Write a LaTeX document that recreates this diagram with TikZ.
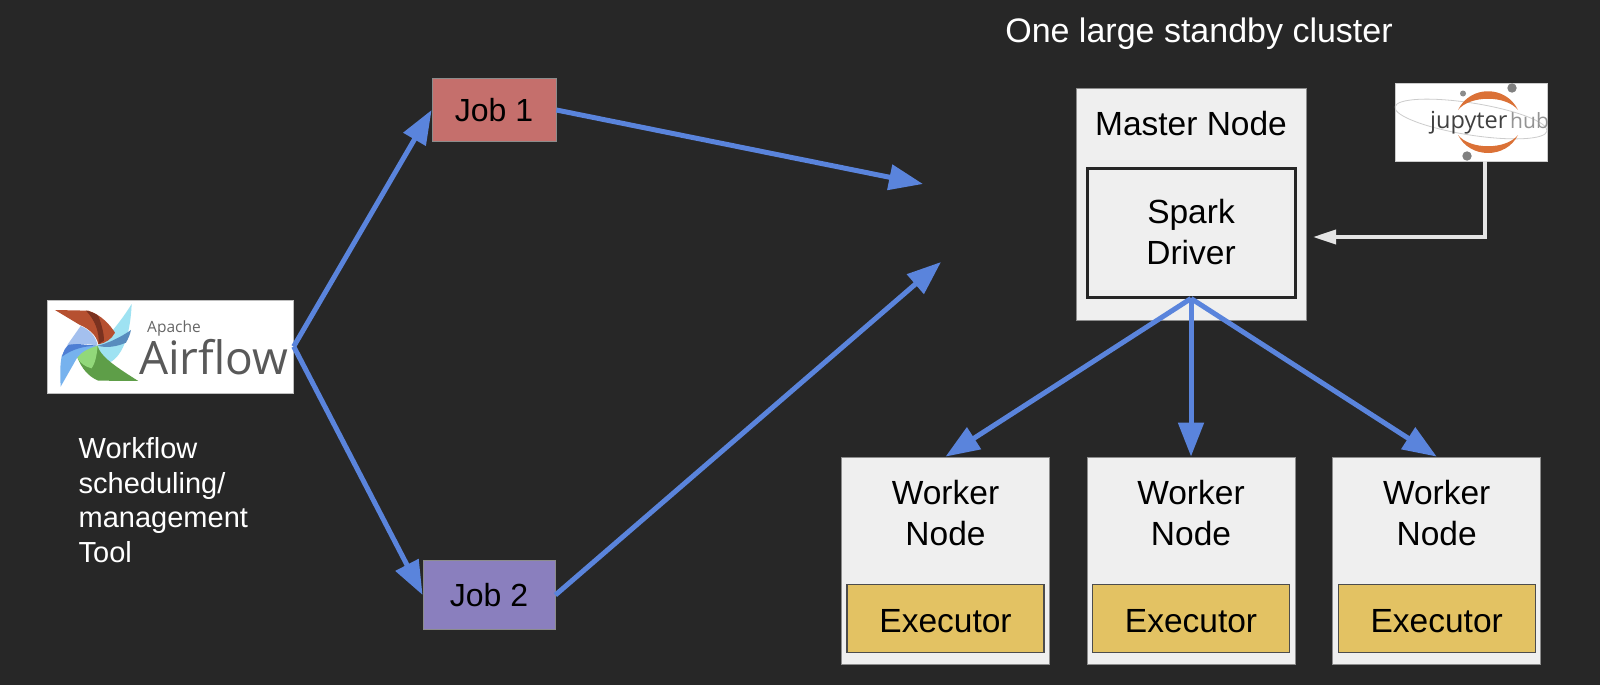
\documentclass[tikz,border=0pt]{standalone}
\usepackage{xcolor}
\usepackage{fontspec}
\setmainfont{Liberation Sans}
\newfontfamily\logofont{Open Sans}
\usetikzlibrary{arrows.meta}
\definecolor{bgdark}{HTML}{272727}
\definecolor{flowblue}{HTML}{5A84DC}
\definecolor{boxgray}{HTML}{EFEFEF}
\definecolor{execgold}{HTML}{E3C263}
\definecolor{jobred}{HTML}{C56F6C}
\definecolor{jobviolet}{HTML}{8A7FBE}
\definecolor{jorange}{HTML}{DB7136}
\definecolor{arrowgray}{HTML}{E4E4E4}
\tikzset{
  bigtext/.style={font=\fontsize{33.5}{41}\selectfont, align=center, inner sep=0pt},
  jobbox/.style={draw=black!45, rectangle, line width=0.8pt, inner sep=0pt, font=\fontsize{32}{39}\selectfont},
  graybox/.style={draw=black!45, rectangle, fill=boxgray, line width=0.8pt, inner sep=0pt},
  execbox/.style={draw=black!70, rectangle, fill=execgold, line width=1.2pt, inner sep=0pt, minimum width=197, minimum height=68, text height=27.5pt, text depth=0pt, font=\fontsize{33.5}{41}\selectfont},
  flow/.style={draw=flowblue, line width=5pt, -{Triangle[length=34pt,width=25pt]}},
}
\begin{document}
\begin{tikzpicture}[x=1pt, y=-1pt]
    \useasboundingbox[fill=bgdark] (0,0) rectangle (1600,685);

    % Left side
    \node[draw=gray!50, fill=white, minimum width=246, minimum height=93, inner sep=0pt] (airflow) at (170.5,346.5) {};
    \node[bigtext, font=\fontsize{29}{34.5}\selectfont, text=white, align=left, anchor=north west] (toolnote) at (78.5,437.5) {Workflow\\scheduling/\\management\\Tool};
    \node[jobbox, fill=jobred, minimum width=124, minimum height=63] (job1) at (494,110) {Job 1};
    \node[jobbox, fill=jobviolet, minimum width=132, minimum height=69] (job2) at (489,595) {Job 2};

    % Airflow logo
    \begin{scope}[shift={(30,280)}, x=0.3333pt, y=-0.3333pt]
        \fill[fill={rgb,255:red,158;green,226;blue,242}] (305,72) .. controls (275,120) and (240,165) .. (203,197) -- (225,252) .. controls (265,245) and (300,190) .. cycle;
        \fill[fill={rgb,255:red,88;green,140;blue,190}] (203,197) .. controls (235,190) and (275,170) .. (303,150) .. controls (300,165) and (295,175) .. (288,188) .. controls (260,200) and (230,205) .. (203,197) -- cycle;
        \fill[fill={rgb,255:red,94;green,158;blue,72}] (325,303) -- (205,302) .. controls (175,290) and (155,265) .. (142,232) -- (203,197) .. controls (210,225) and (240,250) .. cycle;
        \fill[fill={rgb,255:red,146;green,216;blue,122}] (142,232) .. controls (155,210) and (180,198) .. (203,197) .. controls (200,230) and (195,250) .. (185,265) .. controls (165,260) and (150,250) .. cycle;
        \fill[fill={rgb,255:red,118;green,178;blue,238}] (92,320) .. controls (90,280) and (90,250) .. (96,225) -- (140,200) -- (203,197) .. controls (175,205) and (155,215) .. (142,232) -- cycle;
        \fill[fill={rgb,255:red,78;green,126;blue,212}] (96,230) .. controls (100,212) and (108,200) .. (120,190) -- (203,197) .. controls (165,198) and (130,205) .. cycle;
        \fill[fill={rgb,255:red,164;green,192;blue,238}] (112,195) -- (152,138) .. controls (180,150) and (198,170) .. (203,197) .. controls (170,190) and (140,190) .. cycle;
        \fill[fill={rgb,255:red,182;green,80;blue,48}] (75,90) -- (175,92) .. controls (215,105) and (240,135) .. (255,158) .. controls (245,178) and (225,190) .. (205,193) .. controls (200,165) and (175,145) .. (150,135) -- cycle;
        \fill[fill={rgb,255:red,122;green,50;blue,32}] (168,92) .. controls (190,97) and (200,102) .. (206,110) .. controls (215,135) and (222,160) .. (222,182) -- (206,192) .. controls (208,155) and (195,120) .. cycle;
    \end{scope}
    \node[inner sep=0pt, text=black!60, font=\logofont\fontsize{15.5}{18}\selectfont] (apache) at (174,328) {Apache};
    \node[inner sep=0pt, text=black!65, anchor=base west, font=\logofont\fontsize{46}{50}\selectfont] (airflowtext) at (139,374) {Airflow};

    % Master
    \node[bigtext, text=white, font=\fontsize{34}{41}\selectfont] (title) at (1199,34) {One large standby cluster};
    \node[graybox, minimum width=230, minimum height=232] (master) at (1191.5,204) {};
    \node[bigtext] (mastertext) at (1191,123.5) {Master Node};
    \node[draw=black!85, fill=boxgray, line width=3pt, minimum width=208, minimum height=129, inner sep=0pt, bigtext] (driver) at (1191,232.5) {Spark\\Driver};

    % Workers
    \foreach \wx [count=\wi] in {945.5,1191,1436.7} {
        \node[graybox, minimum width=208, minimum height=207] (worker\wi) at (\wx,560.5) {};
        \node[bigtext] (workertext\wi) at (\wx,513.5) {Worker\\Node};
        \node[execbox] (exec\wi) at (\wx,618.5) {Executor};
    }

    % JupyterHub logo
    \node[draw=gray!40, fill=white, minimum width=152, minimum height=78, inner sep=0pt] (jhub) at (1471,122) {};
    \begin{scope}
        \clip (jhub.south west) rectangle (jhub.north east);
        \draw[gray!40, line width=0.8pt] (1471,119) ellipse[x radius=77, y radius=16, rotate=-9];
    \end{scope}
    \fill[jorange] (1458,110) .. controls (1470,85) and (1506,85) .. (1518,110) .. controls (1506,95) and (1470,95) .. cycle;
    \fill[jorange] (1458,135) .. controls (1470,159) and (1506,159) .. (1518,135) .. controls (1506,150) and (1470,150) .. cycle;
    \fill[gray] (1512,88) circle (4.7);
    \fill[gray!90] (1463,93.5) circle (3);
    \fill[gray] (1467,156) circle (4.7);
    \node[inner sep=0pt, anchor=base west, text=black!75, font=\logofont\fontsize{23.5}{28}\selectfont] (jupytext) at (1430,128) {jupyter};
    \node[inner sep=0pt, anchor=base west, text=black!42, font=\logofont\fontsize{21}{24}\selectfont] (hubtext) at (1510,128) {hub};

    % Free ends of the connectors
    \coordinate (clusterin1) at (923,184);
    \coordinate (clusterin2) at (941,262);
    \coordinate (jturn) at (1485,237);
    \coordinate (jend) at (1313,237);

    % Connectors
    \draw[flow] (airflow.east) -- (job1.west);
    \draw[flow] (airflow.east) -- (job2.west);
    \draw[flow] (job1.east) -- (clusterin1);
    \draw[flow] (job2.east) -- (clusterin2);
    \foreach \wi in {1,2,3} {
        \draw[flow] (driver.south) -- (worker\wi.north);
    }
    \draw[draw=arrowgray, line width=3.5pt, -{Triangle[length=23pt,width=14pt]}] (jturn |- jhub.south) -- (jturn) -- (jend);
\end{tikzpicture}
\end{document}
